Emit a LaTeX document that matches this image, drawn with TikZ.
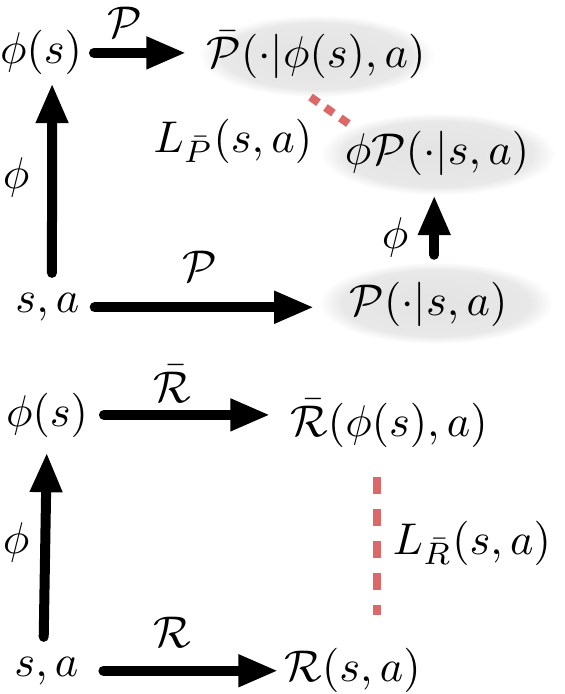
\documentclass[tikz,border=0pt]{standalone}
\usepackage{tikz}
\usetikzlibrary{arrows.meta}
\usetikzlibrary{shapes.geometric}
\usepackage{amsmath}
\usepackage{amssymb}
\definecolor{lossred}{RGB}{221,104,104}
% soft grey cloud behind the transition terms
\pgfdeclareradialshading{hazeshade}{\pgfpoint{0bp}{0bp}}{color(0bp)=(black!11); color(20bp)=(black!9); color(25bp)=(white); color(50bp)=(white)}

\begin{document}
\begin{tikzpicture}[x=0.225pt, y=-0.225pt,
	every node/.style={inner sep=0pt, outer sep=0pt},
	map/.style={line width=2.25pt, line cap=round, -{Triangle[length=9pt,width=6.75pt]}},
	haze/.style={ellipse, shade, shading=hazeshade, minimum width=53pt, minimum height=18.5pt},
	lossdot/.style={lossred, line width=1.8pt, dash pattern=on 2.2pt off 1.9pt},
	lossdash/.style={lossred, line width=1.6pt, dash pattern=on 3.8pt off 3.4pt}]
	% 565 x 694 px, 1px = 0.225pt
	\useasboundingbox (0,0) rectangle (565,694);
	% transition square
	\node[haze] (b1) at (317,56) {};
	\node[haze] (b2) at (438,154) {};
	\node[haze] (b3) at (436,303) {};
	\node[anchor=base] (phis1) at (41,64) {$\phi(s)$};
	\node[anchor=base] (sa1) at (47.5,312.5) {$s,a$};
	\node[anchor=base] (pbar) at (316,67.5) {$\bar{\mathcal{P}}(\cdot|\phi(s),a)$};
	\node[anchor=base] (phip) at (437,164) {$\phi\mathcal{P}(\cdot|s,a)$};
	\node[anchor=base] (psa) at (428.5,315) {$\mathcal{P}(\cdot|s,a)$};
	\draw[map, shorten <=2.7pt, shorten >=2.9pt] (phis1.east) -- (phis1.east -| b1.west);
	\draw[map, shorten <=3.4pt, shorten >=0.9pt] (sa1.east) -- (sa1.east -| b3.west);
	\draw[map, shorten <=4.6pt, shorten >=1.8pt] ([xshift=1pt]sa1.north) -- ([xshift=2.5pt]phis1.south);
	\draw[map, shorten <=1.6pt] ([xshift=-0.4pt]b3.north) -- ([xshift=-0.4pt]b3.north |- b2.south);
	\draw[lossdot] (b1.-99) -- (b2.162);
	\node[anchor=base] (lp1) at (125,38) {$\mathcal{P}$};
	\node[anchor=base] (lp2) at (200,282) {$\mathcal{P}$};
	\node (lphi1) at (16,177) {$\phi$};
	\node (lphi2) at (395,237) {$\phi$};
	\node[anchor=base] (lossp) at (233,152) {$L_{\bar{P}}(s,a)$};
	% reward square
	\node[anchor=base] (phis2) at (47,426) {$\phi(s)$};
	\node[anchor=base] (sa2) at (46.5,676) {$s,a$};
	\node[anchor=base] (rbar) at (389,436) {$\bar{\mathcal{R}}(\phi(s),a)$};
	\node[anchor=base] (rsa) at (352.5,681) {$\mathcal{R}(s,a)$};
	\coordinate (lrx) at (377,0);
	\draw[map, shorten <=3.6pt, shorten >=4.5pt] (phis2.east) -- (phis2.east -| rbar.west);
	\draw[map, shorten <=5.6pt, shorten >=1.35pt] (sa2.east) -- (sa2.east -| rsa.west);
	\draw[map, shorten <=4.5pt, shorten >=3.4pt] ([xshift=-0.7pt]sa2.north) -- (phis2.south);
	\draw[lossdash, shorten <=6.75pt, shorten >=7.4pt] (rbar.south -| lrx) -- (rsa.north -| lrx);
	\node[anchor=base] (lr1) at (172,402) {$\bar{\mathcal{R}}$};
	\node[anchor=base] (lr2) at (172,647) {$\mathcal{R}$};
	\node (lphi3) at (16,542) {$\phi$};
	\node[anchor=base] (lossr) at (472,554) {$L_{\bar{R}}(s,a)$};
\end{tikzpicture}
\end{document}
